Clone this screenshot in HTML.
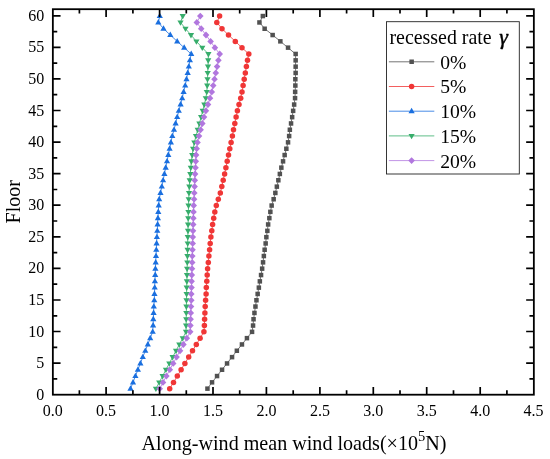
<!DOCTYPE html>
<html><head><meta charset="utf-8"><title>Along-wind mean wind loads</title>
<style>html,body{margin:0;padding:0;background:#fff}body{width:550px;height:459px;overflow:hidden}</style></head>
<body>
<svg width="550" height="459" viewBox="0 0 550 459" style="display:block">
<rect width="550" height="459" fill="#fff"/>
<polyline points="207.4,388.7 212.0,382.4 217.0,376.1 222.0,369.7 227.0,363.4 232.0,357.1 236.8,350.8 241.9,344.5 246.9,338.2 252.1,331.8 253.0,325.5 253.6,319.2 254.5,312.9 255.4,306.6 256.5,300.3 257.7,294.0 258.8,287.6 259.9,281.3 261.0,275.0 262.1,268.7 263.0,262.4 263.8,256.1 264.7,249.8 265.6,243.4 266.4,237.1 267.3,230.8 268.2,224.5 269.3,218.2 270.4,211.9 271.7,205.5 273.6,199.2 275.3,192.9 276.9,186.6 278.4,180.3 279.9,174.0 281.4,167.7 283.0,161.3 284.7,155.0 286.4,148.7 288.0,142.4 289.1,136.1 289.9,129.8 291.0,123.5 292.1,117.1 293.2,110.8 294.1,104.5 295.0,98.2 295.2,91.9 295.4,85.6 295.4,79.2 295.6,72.9 295.6,66.6 295.6,60.3 295.6,54.0 288.0,47.7 280.4,41.4 272.7,35.0 264.7,28.7 259.5,22.4 262.9,16.1" fill="none" stroke="#515151" stroke-width="0.8"/>
<g><rect x="205.2" y="386.4" width="4.5" height="4.5" fill="#515151"/><rect x="209.8" y="380.1" width="4.5" height="4.5" fill="#515151"/><rect x="214.8" y="373.8" width="4.5" height="4.5" fill="#515151"/><rect x="219.8" y="367.5" width="4.5" height="4.5" fill="#515151"/><rect x="224.8" y="361.2" width="4.5" height="4.5" fill="#515151"/><rect x="229.8" y="354.9" width="4.5" height="4.5" fill="#515151"/><rect x="234.6" y="348.5" width="4.5" height="4.5" fill="#515151"/><rect x="239.7" y="342.2" width="4.5" height="4.5" fill="#515151"/><rect x="244.7" y="335.9" width="4.5" height="4.5" fill="#515151"/><rect x="249.8" y="329.6" width="4.5" height="4.5" fill="#515151"/><rect x="250.8" y="323.3" width="4.5" height="4.5" fill="#515151"/><rect x="251.3" y="317.0" width="4.5" height="4.5" fill="#515151"/><rect x="252.2" y="310.7" width="4.5" height="4.5" fill="#515151"/><rect x="253.2" y="304.3" width="4.5" height="4.5" fill="#515151"/><rect x="254.2" y="298.0" width="4.5" height="4.5" fill="#515151"/><rect x="255.4" y="291.7" width="4.5" height="4.5" fill="#515151"/><rect x="256.6" y="285.4" width="4.5" height="4.5" fill="#515151"/><rect x="257.6" y="279.1" width="4.5" height="4.5" fill="#515151"/><rect x="258.8" y="272.8" width="4.5" height="4.5" fill="#515151"/><rect x="259.9" y="266.4" width="4.5" height="4.5" fill="#515151"/><rect x="260.8" y="260.1" width="4.5" height="4.5" fill="#515151"/><rect x="261.6" y="253.8" width="4.5" height="4.5" fill="#515151"/><rect x="262.4" y="247.5" width="4.5" height="4.5" fill="#515151"/><rect x="263.4" y="241.2" width="4.5" height="4.5" fill="#515151"/><rect x="264.1" y="234.9" width="4.5" height="4.5" fill="#515151"/><rect x="265.1" y="228.6" width="4.5" height="4.5" fill="#515151"/><rect x="265.9" y="222.2" width="4.5" height="4.5" fill="#515151"/><rect x="267.1" y="215.9" width="4.5" height="4.5" fill="#515151"/><rect x="268.1" y="209.6" width="4.5" height="4.5" fill="#515151"/><rect x="269.4" y="203.3" width="4.5" height="4.5" fill="#515151"/><rect x="271.4" y="197.0" width="4.5" height="4.5" fill="#515151"/><rect x="273.1" y="190.7" width="4.5" height="4.5" fill="#515151"/><rect x="274.6" y="184.4" width="4.5" height="4.5" fill="#515151"/><rect x="276.1" y="178.0" width="4.5" height="4.5" fill="#515151"/><rect x="277.6" y="171.7" width="4.5" height="4.5" fill="#515151"/><rect x="279.1" y="165.4" width="4.5" height="4.5" fill="#515151"/><rect x="280.8" y="159.1" width="4.5" height="4.5" fill="#515151"/><rect x="282.4" y="152.8" width="4.5" height="4.5" fill="#515151"/><rect x="284.1" y="146.5" width="4.5" height="4.5" fill="#515151"/><rect x="285.8" y="140.1" width="4.5" height="4.5" fill="#515151"/><rect x="286.9" y="133.8" width="4.5" height="4.5" fill="#515151"/><rect x="287.6" y="127.5" width="4.5" height="4.5" fill="#515151"/><rect x="288.8" y="121.2" width="4.5" height="4.5" fill="#515151"/><rect x="289.9" y="114.9" width="4.5" height="4.5" fill="#515151"/><rect x="290.9" y="108.6" width="4.5" height="4.5" fill="#515151"/><rect x="291.9" y="102.3" width="4.5" height="4.5" fill="#515151"/><rect x="292.8" y="95.9" width="4.5" height="4.5" fill="#515151"/><rect x="292.9" y="89.6" width="4.5" height="4.5" fill="#515151"/><rect x="293.1" y="83.3" width="4.5" height="4.5" fill="#515151"/><rect x="293.1" y="77.0" width="4.5" height="4.5" fill="#515151"/><rect x="293.4" y="70.7" width="4.5" height="4.5" fill="#515151"/><rect x="293.4" y="64.4" width="4.5" height="4.5" fill="#515151"/><rect x="293.4" y="58.1" width="4.5" height="4.5" fill="#515151"/><rect x="293.4" y="51.7" width="4.5" height="4.5" fill="#515151"/><rect x="285.8" y="45.4" width="4.5" height="4.5" fill="#515151"/><rect x="278.1" y="39.1" width="4.5" height="4.5" fill="#515151"/><rect x="270.4" y="32.8" width="4.5" height="4.5" fill="#515151"/><rect x="262.4" y="26.5" width="4.5" height="4.5" fill="#515151"/><rect x="257.2" y="20.2" width="4.5" height="4.5" fill="#515151"/><rect x="260.6" y="13.8" width="4.5" height="4.5" fill="#515151"/></g>
<polyline points="169.7,388.7 173.5,382.4 177.3,376.1 181.1,369.7 184.9,363.4 188.7,357.1 192.5,350.8 196.3,344.5 200.1,338.2 203.9,331.8 204.4,325.5 204.6,319.2 204.9,312.9 205.2,306.6 205.6,300.3 206.1,294.0 206.3,287.6 206.8,281.3 207.2,275.0 207.6,268.7 208.3,262.4 208.9,256.1 209.6,249.8 210.2,243.4 210.9,237.1 211.8,230.8 212.6,224.5 213.7,218.2 214.8,211.9 216.3,205.5 218.3,199.2 220.3,192.9 221.8,186.6 223.2,180.3 224.6,174.0 225.9,167.7 227.2,161.3 228.5,155.0 229.8,148.7 231.1,142.4 232.4,136.1 233.5,129.8 234.8,123.5 236.1,117.1 237.4,110.8 239.0,104.5 240.7,98.2 242.0,91.9 243.1,85.6 244.2,79.2 245.3,72.9 246.4,66.6 247.5,60.3 248.8,54.0 242.0,47.7 235.3,41.4 228.5,35.0 222.0,28.7 216.8,22.4 219.6,16.1" fill="none" stroke="#F03636" stroke-width="0.8"/>
<g><circle cx="169.7" cy="388.7" r="2.75" fill="#F03636"/><circle cx="173.5" cy="382.4" r="2.75" fill="#F03636"/><circle cx="177.3" cy="376.1" r="2.75" fill="#F03636"/><circle cx="181.1" cy="369.7" r="2.75" fill="#F03636"/><circle cx="184.9" cy="363.4" r="2.75" fill="#F03636"/><circle cx="188.7" cy="357.1" r="2.75" fill="#F03636"/><circle cx="192.5" cy="350.8" r="2.75" fill="#F03636"/><circle cx="196.3" cy="344.5" r="2.75" fill="#F03636"/><circle cx="200.1" cy="338.2" r="2.75" fill="#F03636"/><circle cx="203.9" cy="331.8" r="2.75" fill="#F03636"/><circle cx="204.4" cy="325.5" r="2.75" fill="#F03636"/><circle cx="204.6" cy="319.2" r="2.75" fill="#F03636"/><circle cx="204.9" cy="312.9" r="2.75" fill="#F03636"/><circle cx="205.2" cy="306.6" r="2.75" fill="#F03636"/><circle cx="205.6" cy="300.3" r="2.75" fill="#F03636"/><circle cx="206.1" cy="294.0" r="2.75" fill="#F03636"/><circle cx="206.3" cy="287.6" r="2.75" fill="#F03636"/><circle cx="206.8" cy="281.3" r="2.75" fill="#F03636"/><circle cx="207.2" cy="275.0" r="2.75" fill="#F03636"/><circle cx="207.6" cy="268.7" r="2.75" fill="#F03636"/><circle cx="208.3" cy="262.4" r="2.75" fill="#F03636"/><circle cx="208.9" cy="256.1" r="2.75" fill="#F03636"/><circle cx="209.6" cy="249.8" r="2.75" fill="#F03636"/><circle cx="210.2" cy="243.4" r="2.75" fill="#F03636"/><circle cx="210.9" cy="237.1" r="2.75" fill="#F03636"/><circle cx="211.8" cy="230.8" r="2.75" fill="#F03636"/><circle cx="212.6" cy="224.5" r="2.75" fill="#F03636"/><circle cx="213.7" cy="218.2" r="2.75" fill="#F03636"/><circle cx="214.8" cy="211.9" r="2.75" fill="#F03636"/><circle cx="216.3" cy="205.5" r="2.75" fill="#F03636"/><circle cx="218.3" cy="199.2" r="2.75" fill="#F03636"/><circle cx="220.3" cy="192.9" r="2.75" fill="#F03636"/><circle cx="221.8" cy="186.6" r="2.75" fill="#F03636"/><circle cx="223.2" cy="180.3" r="2.75" fill="#F03636"/><circle cx="224.6" cy="174.0" r="2.75" fill="#F03636"/><circle cx="225.9" cy="167.7" r="2.75" fill="#F03636"/><circle cx="227.2" cy="161.3" r="2.75" fill="#F03636"/><circle cx="228.5" cy="155.0" r="2.75" fill="#F03636"/><circle cx="229.8" cy="148.7" r="2.75" fill="#F03636"/><circle cx="231.1" cy="142.4" r="2.75" fill="#F03636"/><circle cx="232.4" cy="136.1" r="2.75" fill="#F03636"/><circle cx="233.5" cy="129.8" r="2.75" fill="#F03636"/><circle cx="234.8" cy="123.5" r="2.75" fill="#F03636"/><circle cx="236.1" cy="117.1" r="2.75" fill="#F03636"/><circle cx="237.4" cy="110.8" r="2.75" fill="#F03636"/><circle cx="239.0" cy="104.5" r="2.75" fill="#F03636"/><circle cx="240.7" cy="98.2" r="2.75" fill="#F03636"/><circle cx="242.0" cy="91.9" r="2.75" fill="#F03636"/><circle cx="243.1" cy="85.6" r="2.75" fill="#F03636"/><circle cx="244.2" cy="79.2" r="2.75" fill="#F03636"/><circle cx="245.3" cy="72.9" r="2.75" fill="#F03636"/><circle cx="246.4" cy="66.6" r="2.75" fill="#F03636"/><circle cx="247.5" cy="60.3" r="2.75" fill="#F03636"/><circle cx="248.8" cy="54.0" r="2.75" fill="#F03636"/><circle cx="242.0" cy="47.7" r="2.75" fill="#F03636"/><circle cx="235.3" cy="41.4" r="2.75" fill="#F03636"/><circle cx="228.5" cy="35.0" r="2.75" fill="#F03636"/><circle cx="222.0" cy="28.7" r="2.75" fill="#F03636"/><circle cx="216.8" cy="22.4" r="2.75" fill="#F03636"/><circle cx="219.6" cy="16.1" r="2.75" fill="#F03636"/></g>
<polyline points="130.5,388.7 133.0,382.4 135.4,376.1 137.9,369.7 140.4,363.4 142.8,357.1 145.3,350.8 147.8,344.5 150.2,338.2 152.7,331.8 153.1,325.5 153.3,319.2 153.6,312.9 153.8,306.6 154.3,300.3 154.5,294.0 154.7,287.6 154.9,281.3 155.2,275.0 155.4,268.7 155.7,262.4 156.0,256.1 156.3,249.8 156.6,243.4 156.9,237.1 157.3,230.8 157.6,224.5 157.9,218.2 158.3,211.9 158.7,205.5 159.2,199.2 160.5,192.9 161.8,186.6 163.1,180.3 164.4,174.0 165.7,167.7 167.0,161.3 168.3,155.0 169.6,148.7 170.9,142.4 172.3,136.1 174.0,129.8 175.6,123.5 177.2,117.1 178.8,110.8 180.6,104.5 182.2,98.2 183.6,91.9 185.2,85.6 186.5,79.2 187.7,72.9 188.8,66.6 189.9,60.3 191.2,54.0 184.2,47.7 177.2,41.4 170.3,35.0 163.5,28.7 158.3,22.4 159.8,16.1" fill="none" stroke="#1A6FDF" stroke-width="0.8"/>
<g><path d="M127.4 390.7L133.6 390.7L130.5 385.3Z" fill="#1A6FDF"/><path d="M129.9 384.4L136.1 384.4L133.0 379.0Z" fill="#1A6FDF"/><path d="M132.3 378.1L138.5 378.1L135.4 372.7Z" fill="#1A6FDF"/><path d="M134.8 371.7L141.0 371.7L137.9 366.3Z" fill="#1A6FDF"/><path d="M137.3 365.4L143.5 365.4L140.4 360.0Z" fill="#1A6FDF"/><path d="M139.7 359.1L145.9 359.1L142.8 353.7Z" fill="#1A6FDF"/><path d="M142.2 352.8L148.4 352.8L145.3 347.4Z" fill="#1A6FDF"/><path d="M144.7 346.5L150.9 346.5L147.8 341.1Z" fill="#1A6FDF"/><path d="M147.1 340.2L153.3 340.2L150.2 334.8Z" fill="#1A6FDF"/><path d="M149.6 333.8L155.8 333.8L152.7 328.4Z" fill="#1A6FDF"/><path d="M150.0 327.5L156.2 327.5L153.1 322.1Z" fill="#1A6FDF"/><path d="M150.2 321.2L156.4 321.2L153.3 315.8Z" fill="#1A6FDF"/><path d="M150.5 314.9L156.7 314.9L153.6 309.5Z" fill="#1A6FDF"/><path d="M150.7 308.6L156.9 308.6L153.8 303.2Z" fill="#1A6FDF"/><path d="M151.2 302.3L157.4 302.3L154.3 296.9Z" fill="#1A6FDF"/><path d="M151.4 296.0L157.6 296.0L154.5 290.6Z" fill="#1A6FDF"/><path d="M151.6 289.6L157.8 289.6L154.7 284.2Z" fill="#1A6FDF"/><path d="M151.8 283.3L158.0 283.3L154.9 277.9Z" fill="#1A6FDF"/><path d="M152.1 277.0L158.3 277.0L155.2 271.6Z" fill="#1A6FDF"/><path d="M152.3 270.7L158.5 270.7L155.4 265.3Z" fill="#1A6FDF"/><path d="M152.6 264.4L158.8 264.4L155.7 259.0Z" fill="#1A6FDF"/><path d="M152.9 258.1L159.1 258.1L156.0 252.7Z" fill="#1A6FDF"/><path d="M153.2 251.8L159.4 251.8L156.3 246.4Z" fill="#1A6FDF"/><path d="M153.5 245.4L159.7 245.4L156.6 240.0Z" fill="#1A6FDF"/><path d="M153.8 239.1L160.0 239.1L156.9 233.7Z" fill="#1A6FDF"/><path d="M154.2 232.8L160.4 232.8L157.3 227.4Z" fill="#1A6FDF"/><path d="M154.5 226.5L160.7 226.5L157.6 221.1Z" fill="#1A6FDF"/><path d="M154.8 220.2L161.0 220.2L157.9 214.8Z" fill="#1A6FDF"/><path d="M155.2 213.9L161.4 213.9L158.3 208.5Z" fill="#1A6FDF"/><path d="M155.6 207.5L161.8 207.5L158.7 202.1Z" fill="#1A6FDF"/><path d="M156.1 201.2L162.3 201.2L159.2 195.8Z" fill="#1A6FDF"/><path d="M157.4 194.9L163.6 194.9L160.5 189.5Z" fill="#1A6FDF"/><path d="M158.7 188.6L164.9 188.6L161.8 183.2Z" fill="#1A6FDF"/><path d="M160.0 182.3L166.2 182.3L163.1 176.9Z" fill="#1A6FDF"/><path d="M161.3 176.0L167.5 176.0L164.4 170.6Z" fill="#1A6FDF"/><path d="M162.6 169.7L168.8 169.7L165.7 164.3Z" fill="#1A6FDF"/><path d="M163.9 163.3L170.1 163.3L167.0 157.9Z" fill="#1A6FDF"/><path d="M165.2 157.0L171.4 157.0L168.3 151.6Z" fill="#1A6FDF"/><path d="M166.5 150.7L172.7 150.7L169.6 145.3Z" fill="#1A6FDF"/><path d="M167.8 144.4L174.0 144.4L170.9 139.0Z" fill="#1A6FDF"/><path d="M169.2 138.1L175.4 138.1L172.3 132.7Z" fill="#1A6FDF"/><path d="M170.9 131.8L177.1 131.8L174.0 126.4Z" fill="#1A6FDF"/><path d="M172.5 125.5L178.7 125.5L175.6 120.1Z" fill="#1A6FDF"/><path d="M174.1 119.1L180.3 119.1L177.2 113.7Z" fill="#1A6FDF"/><path d="M175.7 112.8L181.9 112.8L178.8 107.4Z" fill="#1A6FDF"/><path d="M177.5 106.5L183.7 106.5L180.6 101.1Z" fill="#1A6FDF"/><path d="M179.1 100.2L185.3 100.2L182.2 94.8Z" fill="#1A6FDF"/><path d="M180.5 93.9L186.7 93.9L183.6 88.5Z" fill="#1A6FDF"/><path d="M182.1 87.6L188.3 87.6L185.2 82.2Z" fill="#1A6FDF"/><path d="M183.4 81.2L189.6 81.2L186.5 75.8Z" fill="#1A6FDF"/><path d="M184.6 74.9L190.8 74.9L187.7 69.5Z" fill="#1A6FDF"/><path d="M185.7 68.6L191.9 68.6L188.8 63.2Z" fill="#1A6FDF"/><path d="M186.8 62.3L193.0 62.3L189.9 56.9Z" fill="#1A6FDF"/><path d="M188.1 56.0L194.3 56.0L191.2 50.6Z" fill="#1A6FDF"/><path d="M181.1 49.7L187.3 49.7L184.2 44.3Z" fill="#1A6FDF"/><path d="M174.1 43.4L180.3 43.4L177.2 38.0Z" fill="#1A6FDF"/><path d="M167.2 37.0L173.4 37.0L170.3 31.6Z" fill="#1A6FDF"/><path d="M160.4 30.7L166.6 30.7L163.5 25.3Z" fill="#1A6FDF"/><path d="M155.2 24.4L161.4 24.4L158.3 19.0Z" fill="#1A6FDF"/><path d="M156.7 18.1L162.9 18.1L159.8 12.7Z" fill="#1A6FDF"/></g>
<polyline points="155.9,388.7 159.2,382.4 162.6,376.1 165.9,369.7 169.3,363.4 172.6,357.1 176.0,350.8 179.3,344.5 182.7,338.2 186.0,331.8 186.1,325.5 186.2,319.2 186.3,312.9 186.4,306.6 186.5,300.3 186.6,294.0 186.7,287.6 186.9,281.3 187.0,275.0 187.1,268.7 187.3,262.4 187.4,256.1 187.6,249.8 187.7,243.4 187.8,237.1 188.0,230.8 188.1,224.5 188.2,218.2 188.4,211.9 188.5,205.5 188.7,199.2 189.0,192.9 189.3,186.6 189.7,180.3 190.3,174.0 190.8,167.7 191.4,161.3 192.2,155.0 193.1,148.7 194.3,142.4 196.0,136.1 197.7,129.8 199.4,123.5 201.1,117.1 202.7,110.8 204.3,104.5 205.8,98.2 206.8,91.9 207.2,85.6 207.5,79.2 207.7,72.9 208.0,66.6 208.2,60.3 208.4,54.0 202.3,47.7 196.4,41.4 191.0,35.0 185.5,28.7 180.5,22.4 182.7,16.1" fill="none" stroke="#37AD6B" stroke-width="0.8"/>
<g><path d="M152.8 386.7L159.0 386.7L155.9 392.1Z" fill="#37AD6B"/><path d="M156.1 380.4L162.3 380.4L159.2 385.8Z" fill="#37AD6B"/><path d="M159.5 374.1L165.7 374.1L162.6 379.5Z" fill="#37AD6B"/><path d="M162.8 367.7L169.0 367.7L165.9 373.1Z" fill="#37AD6B"/><path d="M166.2 361.4L172.4 361.4L169.3 366.8Z" fill="#37AD6B"/><path d="M169.5 355.1L175.7 355.1L172.6 360.5Z" fill="#37AD6B"/><path d="M172.9 348.8L179.1 348.8L176.0 354.2Z" fill="#37AD6B"/><path d="M176.2 342.5L182.4 342.5L179.3 347.9Z" fill="#37AD6B"/><path d="M179.6 336.2L185.8 336.2L182.7 341.6Z" fill="#37AD6B"/><path d="M182.9 329.8L189.1 329.8L186.0 335.2Z" fill="#37AD6B"/><path d="M183.0 323.5L189.2 323.5L186.1 328.9Z" fill="#37AD6B"/><path d="M183.1 317.2L189.3 317.2L186.2 322.6Z" fill="#37AD6B"/><path d="M183.2 310.9L189.4 310.9L186.3 316.3Z" fill="#37AD6B"/><path d="M183.3 304.6L189.5 304.6L186.4 310.0Z" fill="#37AD6B"/><path d="M183.4 298.3L189.6 298.3L186.5 303.7Z" fill="#37AD6B"/><path d="M183.5 292.0L189.7 292.0L186.6 297.4Z" fill="#37AD6B"/><path d="M183.6 285.6L189.8 285.6L186.7 291.0Z" fill="#37AD6B"/><path d="M183.8 279.3L190.0 279.3L186.9 284.7Z" fill="#37AD6B"/><path d="M183.9 273.0L190.1 273.0L187.0 278.4Z" fill="#37AD6B"/><path d="M184.0 266.7L190.2 266.7L187.1 272.1Z" fill="#37AD6B"/><path d="M184.2 260.4L190.4 260.4L187.3 265.8Z" fill="#37AD6B"/><path d="M184.3 254.1L190.5 254.1L187.4 259.5Z" fill="#37AD6B"/><path d="M184.5 247.8L190.7 247.8L187.6 253.2Z" fill="#37AD6B"/><path d="M184.6 241.4L190.8 241.4L187.7 246.8Z" fill="#37AD6B"/><path d="M184.7 235.1L190.9 235.1L187.8 240.5Z" fill="#37AD6B"/><path d="M184.9 228.8L191.1 228.8L188.0 234.2Z" fill="#37AD6B"/><path d="M185.0 222.5L191.2 222.5L188.1 227.9Z" fill="#37AD6B"/><path d="M185.1 216.2L191.3 216.2L188.2 221.6Z" fill="#37AD6B"/><path d="M185.3 209.9L191.5 209.9L188.4 215.3Z" fill="#37AD6B"/><path d="M185.4 203.5L191.6 203.5L188.5 208.9Z" fill="#37AD6B"/><path d="M185.6 197.2L191.8 197.2L188.7 202.6Z" fill="#37AD6B"/><path d="M185.9 190.9L192.1 190.9L189.0 196.3Z" fill="#37AD6B"/><path d="M186.2 184.6L192.4 184.6L189.3 190.0Z" fill="#37AD6B"/><path d="M186.6 178.3L192.8 178.3L189.7 183.7Z" fill="#37AD6B"/><path d="M187.2 172.0L193.4 172.0L190.3 177.4Z" fill="#37AD6B"/><path d="M187.7 165.7L193.9 165.7L190.8 171.1Z" fill="#37AD6B"/><path d="M188.3 159.3L194.5 159.3L191.4 164.7Z" fill="#37AD6B"/><path d="M189.1 153.0L195.3 153.0L192.2 158.4Z" fill="#37AD6B"/><path d="M190.0 146.7L196.2 146.7L193.1 152.1Z" fill="#37AD6B"/><path d="M191.2 140.4L197.4 140.4L194.3 145.8Z" fill="#37AD6B"/><path d="M192.9 134.1L199.1 134.1L196.0 139.5Z" fill="#37AD6B"/><path d="M194.6 127.8L200.8 127.8L197.7 133.2Z" fill="#37AD6B"/><path d="M196.3 121.5L202.5 121.5L199.4 126.9Z" fill="#37AD6B"/><path d="M198.0 115.1L204.2 115.1L201.1 120.5Z" fill="#37AD6B"/><path d="M199.6 108.8L205.8 108.8L202.7 114.2Z" fill="#37AD6B"/><path d="M201.2 102.5L207.4 102.5L204.3 107.9Z" fill="#37AD6B"/><path d="M202.7 96.2L208.9 96.2L205.8 101.6Z" fill="#37AD6B"/><path d="M203.7 89.9L209.9 89.9L206.8 95.3Z" fill="#37AD6B"/><path d="M204.1 83.6L210.3 83.6L207.2 89.0Z" fill="#37AD6B"/><path d="M204.4 77.2L210.6 77.2L207.5 82.6Z" fill="#37AD6B"/><path d="M204.6 70.9L210.8 70.9L207.7 76.3Z" fill="#37AD6B"/><path d="M204.9 64.6L211.1 64.6L208.0 70.0Z" fill="#37AD6B"/><path d="M205.1 58.3L211.3 58.3L208.2 63.7Z" fill="#37AD6B"/><path d="M205.3 52.0L211.5 52.0L208.4 57.4Z" fill="#37AD6B"/><path d="M199.2 45.7L205.4 45.7L202.3 51.1Z" fill="#37AD6B"/><path d="M193.3 39.4L199.5 39.4L196.4 44.8Z" fill="#37AD6B"/><path d="M187.9 33.0L194.1 33.0L191.0 38.4Z" fill="#37AD6B"/><path d="M182.4 26.7L188.6 26.7L185.5 32.1Z" fill="#37AD6B"/><path d="M177.4 20.4L183.6 20.4L180.5 25.8Z" fill="#37AD6B"/><path d="M179.6 14.1L185.8 14.1L182.7 19.5Z" fill="#37AD6B"/></g>
<polyline points="159.7,388.7 163.0,382.4 166.4,376.1 169.8,369.7 173.2,363.4 176.6,357.1 180.0,350.8 183.4,344.5 186.8,338.2 190.2,331.8 190.4,325.5 190.6,319.2 190.8,312.9 191.0,306.6 191.3,300.3 191.3,294.0 191.5,287.6 191.6,281.3 191.8,275.0 192.0,268.7 192.2,262.4 192.3,256.1 192.5,249.8 192.7,243.4 192.8,237.1 193.0,230.8 193.2,224.5 193.4,218.2 193.5,211.9 193.7,205.5 194.1,199.2 194.3,192.9 194.6,186.6 194.8,180.3 195.1,174.0 195.5,167.7 195.8,161.3 196.1,155.0 196.7,148.7 197.5,142.4 199.0,136.1 200.6,129.8 202.3,123.5 204.0,117.1 205.9,110.8 208.0,104.5 210.0,98.2 211.8,91.9 213.2,85.6 214.5,79.2 215.8,72.9 217.1,66.6 218.4,60.3 219.7,54.0 214.9,47.7 210.6,41.4 206.0,35.0 201.2,28.7 196.8,22.4 200.3,16.1" fill="none" stroke="#B177DE" stroke-width="0.8"/>
<g><path d="M156.3 388.7L159.7 385.3L163.0 388.7L159.7 392.1Z" fill="#B177DE"/><path d="M159.7 382.4L163.0 379.0L166.3 382.4L163.0 385.8Z" fill="#B177DE"/><path d="M163.1 376.1L166.4 372.7L169.7 376.1L166.4 379.5Z" fill="#B177DE"/><path d="M166.5 369.7L169.8 366.3L173.1 369.7L169.8 373.1Z" fill="#B177DE"/><path d="M169.9 363.4L173.2 360.0L176.5 363.4L173.2 366.8Z" fill="#B177DE"/><path d="M173.3 357.1L176.6 353.7L179.9 357.1L176.6 360.5Z" fill="#B177DE"/><path d="M176.7 350.8L180.0 347.4L183.3 350.8L180.0 354.2Z" fill="#B177DE"/><path d="M180.1 344.5L183.4 341.1L186.7 344.5L183.4 347.9Z" fill="#B177DE"/><path d="M183.5 338.2L186.8 334.8L190.1 338.2L186.8 341.6Z" fill="#B177DE"/><path d="M186.9 331.8L190.2 328.4L193.5 331.8L190.2 335.2Z" fill="#B177DE"/><path d="M187.1 325.5L190.4 322.1L193.7 325.5L190.4 328.9Z" fill="#B177DE"/><path d="M187.3 319.2L190.6 315.8L193.9 319.2L190.6 322.6Z" fill="#B177DE"/><path d="M187.5 312.9L190.8 309.5L194.1 312.9L190.8 316.3Z" fill="#B177DE"/><path d="M187.7 306.6L191.0 303.2L194.3 306.6L191.0 310.0Z" fill="#B177DE"/><path d="M188.0 300.3L191.3 296.9L194.6 300.3L191.3 303.7Z" fill="#B177DE"/><path d="M188.0 294.0L191.3 290.6L194.6 294.0L191.3 297.4Z" fill="#B177DE"/><path d="M188.2 287.6L191.5 284.2L194.8 287.6L191.5 291.0Z" fill="#B177DE"/><path d="M188.3 281.3L191.6 277.9L194.9 281.3L191.6 284.7Z" fill="#B177DE"/><path d="M188.5 275.0L191.8 271.6L195.1 275.0L191.8 278.4Z" fill="#B177DE"/><path d="M188.7 268.7L192.0 265.3L195.3 268.7L192.0 272.1Z" fill="#B177DE"/><path d="M188.9 262.4L192.2 259.0L195.5 262.4L192.2 265.8Z" fill="#B177DE"/><path d="M189.0 256.1L192.3 252.7L195.6 256.1L192.3 259.5Z" fill="#B177DE"/><path d="M189.2 249.8L192.5 246.4L195.8 249.8L192.5 253.2Z" fill="#B177DE"/><path d="M189.4 243.4L192.7 240.0L196.0 243.4L192.7 246.8Z" fill="#B177DE"/><path d="M189.5 237.1L192.8 233.7L196.1 237.1L192.8 240.5Z" fill="#B177DE"/><path d="M189.7 230.8L193.0 227.4L196.3 230.8L193.0 234.2Z" fill="#B177DE"/><path d="M189.9 224.5L193.2 221.1L196.5 224.5L193.2 227.9Z" fill="#B177DE"/><path d="M190.1 218.2L193.4 214.8L196.7 218.2L193.4 221.6Z" fill="#B177DE"/><path d="M190.2 211.9L193.5 208.5L196.8 211.9L193.5 215.3Z" fill="#B177DE"/><path d="M190.4 205.5L193.7 202.1L197.0 205.5L193.7 208.9Z" fill="#B177DE"/><path d="M190.8 199.2L194.1 195.8L197.4 199.2L194.1 202.6Z" fill="#B177DE"/><path d="M191.0 192.9L194.3 189.5L197.6 192.9L194.3 196.3Z" fill="#B177DE"/><path d="M191.3 186.6L194.6 183.2L197.9 186.6L194.6 190.0Z" fill="#B177DE"/><path d="M191.5 180.3L194.8 176.9L198.1 180.3L194.8 183.7Z" fill="#B177DE"/><path d="M191.8 174.0L195.1 170.6L198.4 174.0L195.1 177.4Z" fill="#B177DE"/><path d="M192.2 167.7L195.5 164.3L198.8 167.7L195.5 171.1Z" fill="#B177DE"/><path d="M192.4 161.3L195.8 157.9L199.1 161.3L195.8 164.7Z" fill="#B177DE"/><path d="M192.8 155.0L196.1 151.6L199.4 155.0L196.1 158.4Z" fill="#B177DE"/><path d="M193.4 148.7L196.7 145.3L200.0 148.7L196.7 152.1Z" fill="#B177DE"/><path d="M194.2 142.4L197.5 139.0L200.8 142.4L197.5 145.8Z" fill="#B177DE"/><path d="M195.7 136.1L199.0 132.7L202.3 136.1L199.0 139.5Z" fill="#B177DE"/><path d="M197.3 129.8L200.6 126.4L203.9 129.8L200.6 133.2Z" fill="#B177DE"/><path d="M199.0 123.5L202.3 120.1L205.6 123.5L202.3 126.9Z" fill="#B177DE"/><path d="M200.7 117.1L204.0 113.7L207.3 117.1L204.0 120.5Z" fill="#B177DE"/><path d="M202.6 110.8L205.9 107.4L209.2 110.8L205.9 114.2Z" fill="#B177DE"/><path d="M204.7 104.5L208.0 101.1L211.3 104.5L208.0 107.9Z" fill="#B177DE"/><path d="M206.7 98.2L210.0 94.8L213.3 98.2L210.0 101.6Z" fill="#B177DE"/><path d="M208.5 91.9L211.8 88.5L215.1 91.9L211.8 95.3Z" fill="#B177DE"/><path d="M209.9 85.6L213.2 82.2L216.5 85.6L213.2 89.0Z" fill="#B177DE"/><path d="M211.2 79.2L214.5 75.8L217.8 79.2L214.5 82.6Z" fill="#B177DE"/><path d="M212.5 72.9L215.8 69.5L219.1 72.9L215.8 76.3Z" fill="#B177DE"/><path d="M213.8 66.6L217.1 63.2L220.4 66.6L217.1 70.0Z" fill="#B177DE"/><path d="M215.1 60.3L218.4 56.9L221.7 60.3L218.4 63.7Z" fill="#B177DE"/><path d="M216.4 54.0L219.7 50.6L223.0 54.0L219.7 57.4Z" fill="#B177DE"/><path d="M211.6 47.7L214.9 44.3L218.2 47.7L214.9 51.1Z" fill="#B177DE"/><path d="M207.3 41.4L210.6 38.0L213.9 41.4L210.6 44.8Z" fill="#B177DE"/><path d="M202.7 35.0L206.0 31.6L209.3 35.0L206.0 38.4Z" fill="#B177DE"/><path d="M197.9 28.7L201.2 25.3L204.5 28.7L201.2 32.1Z" fill="#B177DE"/><path d="M193.5 22.4L196.8 19.0L200.1 22.4L196.8 25.8Z" fill="#B177DE"/><path d="M197.0 16.1L200.3 12.7L203.6 16.1L200.3 19.5Z" fill="#B177DE"/></g>
<rect x="52.85" y="9.2" width="481.0" height="385.5" fill="none" stroke="#000" stroke-width="1.8"/>
<path d="M79.4 394.7v-4.4M79.4 9.2v4.4M106.1 394.7v-7.7M106.1 9.2v7.7M132.9 394.7v-4.4M132.9 9.2v4.4M159.6 394.7v-7.7M159.6 9.2v7.7M186.3 394.7v-4.4M186.3 9.2v4.4M213.0 394.7v-7.7M213.0 9.2v7.7M239.7 394.7v-4.4M239.7 9.2v4.4M266.4 394.7v-7.7M266.4 9.2v7.7M293.2 394.7v-4.4M293.2 9.2v4.4M319.9 394.7v-7.7M319.9 9.2v7.7M346.6 394.7v-4.4M346.6 9.2v4.4M373.3 394.7v-7.7M373.3 9.2v7.7M400.0 394.7v-4.4M400.0 9.2v4.4M426.7 394.7v-7.7M426.7 9.2v7.7M453.5 394.7v-4.4M453.5 9.2v4.4M480.2 394.7v-7.7M480.2 9.2v7.7M506.9 394.7v-4.4M506.9 9.2v4.4M52.85 378.9h4.4M533.85 378.9h-4.4M52.85 363.1h7.7M533.85 363.1h-7.7M52.85 347.3h4.4M533.85 347.3h-4.4M52.85 331.5h7.7M533.85 331.5h-7.7M52.85 315.8h4.4M533.85 315.8h-4.4M52.85 300.0h7.7M533.85 300.0h-7.7M52.85 284.2h4.4M533.85 284.2h-4.4M52.85 268.4h7.7M533.85 268.4h-7.7M52.85 252.6h4.4M533.85 252.6h-4.4M52.85 236.8h7.7M533.85 236.8h-7.7M52.85 221.0h4.4M533.85 221.0h-4.4M52.85 205.2h7.7M533.85 205.2h-7.7M52.85 189.5h4.4M533.85 189.5h-4.4M52.85 173.7h7.7M533.85 173.7h-7.7M52.85 157.9h4.4M533.85 157.9h-4.4M52.85 142.1h7.7M533.85 142.1h-7.7M52.85 126.3h4.4M533.85 126.3h-4.4M52.85 110.5h7.7M533.85 110.5h-7.7M52.85 94.7h4.4M533.85 94.7h-4.4M52.85 78.9h7.7M533.85 78.9h-7.7M52.85 63.2h4.4M533.85 63.2h-4.4M52.85 47.4h7.7M533.85 47.4h-7.7M52.85 31.6h4.4M533.85 31.6h-4.4M52.85 15.8h7.7M533.85 15.8h-7.7" stroke="#000" stroke-width="1.7" fill="none"/>
<g font-family="'Liberation Serif', 'Times New Roman', serif" font-size="16" fill="#000">
<text x="52.7" y="415.5" text-anchor="middle">0.0</text>
<text x="106.1" y="415.5" text-anchor="middle">0.5</text>
<text x="159.6" y="415.5" text-anchor="middle">1.0</text>
<text x="213.0" y="415.5" text-anchor="middle">1.5</text>
<text x="266.4" y="415.5" text-anchor="middle">2.0</text>
<text x="319.9" y="415.5" text-anchor="middle">2.5</text>
<text x="373.3" y="415.5" text-anchor="middle">3.0</text>
<text x="426.7" y="415.5" text-anchor="middle">3.5</text>
<text x="480.2" y="415.5" text-anchor="middle">4.0</text>
<text x="533.6" y="415.5" text-anchor="middle">4.5</text>
<text x="44.2" y="399.7" text-anchor="end">0</text>
<text x="44.2" y="368.1" text-anchor="end">5</text>
<text x="44.2" y="336.5" text-anchor="end">10</text>
<text x="44.2" y="305.0" text-anchor="end">15</text>
<text x="44.2" y="273.4" text-anchor="end">20</text>
<text x="44.2" y="241.8" text-anchor="end">25</text>
<text x="44.2" y="210.2" text-anchor="end">30</text>
<text x="44.2" y="178.7" text-anchor="end">35</text>
<text x="44.2" y="147.1" text-anchor="end">40</text>
<text x="44.2" y="115.5" text-anchor="end">45</text>
<text x="44.2" y="83.9" text-anchor="end">50</text>
<text x="44.2" y="52.4" text-anchor="end">55</text>
<text x="44.2" y="20.8" text-anchor="end">60</text>
</g>
<g font-family="'Liberation Serif', 'Times New Roman', serif" font-size="20" fill="#000">
<text x="141.6" y="449.7" font-size="20.1">Along-wind mean wind loads(×10<tspan font-size="14.5" dy="-8.3">5</tspan><tspan dy="8.3">N)</tspan></text>
<text transform="translate(19.5,201.8) rotate(-90)" text-anchor="middle">Floor</text>
<rect x="386.5" y="21.7" width="132.8" height="152.3" fill="#fff" stroke="#222" stroke-width="0.9"/>
<text x="389.5" y="43.9" font-size="19.9">recessed rate</text>
<text x="499.2" y="43.9" font-size="22" font-style="italic" stroke="#000" stroke-width="0.45">γ</text>
<path d="M388.9 61.8H434.3" stroke="#515151" stroke-width="0.8"/>
<rect x="409.4" y="59.5" width="4.5" height="4.5" fill="#515151"/>
<text x="440.2" y="68.7" font-size="19.6">0%</text>
<path d="M388.9 86.5H434.3" stroke="#F03636" stroke-width="0.8"/>
<circle cx="411.6" cy="86.5" r="2.75" fill="#F03636"/>
<text x="440.2" y="93.4" font-size="19.6">5%</text>
<path d="M388.9 111.2H434.3" stroke="#1A6FDF" stroke-width="0.8"/>
<path d="M408.5 113.2L414.7 113.2L411.6 107.8Z" fill="#1A6FDF"/>
<text x="440.2" y="118.1" font-size="19.6">10%</text>
<path d="M388.9 135.9H434.3" stroke="#37AD6B" stroke-width="0.8"/>
<path d="M408.5 133.9L414.7 133.9L411.6 139.3Z" fill="#37AD6B"/>
<text x="440.2" y="142.8" font-size="19.6">15%</text>
<path d="M388.9 160.6H434.3" stroke="#B177DE" stroke-width="0.8"/>
<path d="M408.3 160.6L411.6 157.2L414.9 160.6L411.6 164.0Z" fill="#B177DE"/>
<text x="440.2" y="167.5" font-size="19.6">20%</text>
</g>
</svg>
</body></html>
